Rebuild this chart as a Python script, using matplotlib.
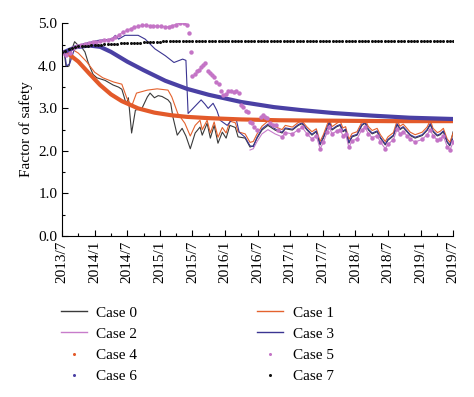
import numpy as np
import matplotlib
matplotlib.use("Agg")
import matplotlib.pyplot as plt
from matplotlib.lines import Line2D
from matplotlib.ticker import MultipleLocator

plt.rcParams['font.family'] = ['Liberation Serif', 'DejaVu Serif']
plt.rcParams['font.size'] = 11

# x axis = months since 2013/7
tick_labels = ['2013/7', '2014/1', '2014/7', '2015/1', '2015/7', '2016/1', '2016/7',
               '2017/1', '2017/7', '2018/1', '2018/7', '2019/1', '2019/7']

# months shared by the fluctuating bundle (2015/9 onward)
bundle_months = [25.8, 26.7, 27.3, 28.0, 28.7, 29.5, 30.2, 30.9, 31.9, 32.4, 33.7, 34.6, 35.2,
                 35.9, 36.8, 37.9, 39.2, 40.5, 41.1, 42.4, 43.5, 44.2, 45.1, 46.0, 46.8, 47.5,
                 48.1, 48.8, 49.2, 49.7, 50.6, 51.2, 51.7, 52.2, 52.8, 53.4, 54.3, 55.2, 55.8,
                 56.4, 57.1, 58.0, 58.6, 59.5, 60.0, 61.0, 61.7, 62.2, 62.8, 63.5, 64.1, 65.0,
                 66.3, 67.2, 67.8, 68.3, 69.1, 69.6, 70.2, 70.9, 71.4, 72.0]

# Case 0
case0_head_m = [0, 0.4, 0.7, 1.3, 1.6, 2.3, 3.0, 3.7, 4.2, 4.8, 5.7, 6.4, 7.9, 9.4, 10.4,
                11.0, 11.4, 11.8, 12.2, 12.8, 13.5, 14.7, 15.7, 16.2, 17.0, 17.7, 18.4, 19.5,
                20.0, 20.4, 21.2, 22.1, 22.8, 23.6, 24.5, 25.4]
case0_head = [4.30, 4.32, 4.00, 4.00, 4.32, 4.57, 4.48, 4.42, 4.33, 4.08, 3.80, 3.72, 3.66,
              3.55, 3.50, 3.45, 3.28, 3.10, 3.25, 2.42, 2.96, 3.00, 3.27, 3.36, 3.25, 3.30,
              3.28, 3.20, 3.12, 2.80, 2.37, 2.53, 2.35, 2.05, 2.42, 2.56]
case0_tail = [2.37, 2.65, 2.30, 2.60, 2.18, 2.44, 2.30, 2.60, 2.55, 2.33, 2.30, 2.09, 2.12,
              2.30, 2.49, 2.60, 2.49, 2.42, 2.52, 2.49, 2.60, 2.64, 2.49, 2.37, 2.45, 2.14,
              2.30, 2.53, 2.66, 2.49, 2.57, 2.60, 2.45, 2.49, 2.18, 2.33, 2.37, 2.60, 2.65,
              2.49, 2.40, 2.45, 2.30, 2.14, 2.25, 2.35, 2.62, 2.50, 2.55, 2.45, 2.36, 2.30,
              2.36, 2.48, 2.62, 2.45, 2.35, 2.38, 2.45, 2.20, 2.12, 2.45]

# Case 1
case1_head_m = [0, 1.0, 2.0, 3.0, 4.5, 6.0, 7.5, 9.5, 11.0, 11.9, 12.8, 13.7, 15.7, 17.5,
                19.5, 20.2, 21.3, 22.6, 23.6, 24.5, 25.4]
case1_head = [4.32, 4.28, 4.38, 4.30, 4.10, 3.85, 3.72, 3.62, 3.57, 3.25, 3.05, 3.36, 3.43,
              3.46, 3.43, 3.27, 2.88, 2.65, 2.35, 2.60, 2.72]
case1_tail = [2.50, 2.72, 2.42, 2.68, 2.32, 2.55, 2.42, 2.70, 2.66, 2.45, 2.40, 2.20, 2.22,
              2.40, 2.58, 2.70, 2.57, 2.50, 2.60, 2.56, 2.67, 2.70, 2.56, 2.45, 2.52, 2.22,
              2.38, 2.62, 2.74, 2.57, 2.65, 2.70, 2.54, 2.57, 2.27, 2.41, 2.45, 2.68, 2.73,
              2.57, 2.48, 2.53, 2.38, 2.22, 2.33, 2.43, 2.72, 2.58, 2.63, 2.53, 2.44, 2.38,
              2.44, 2.56, 2.72, 2.53, 2.43, 2.46, 2.53, 2.28, 2.20, 2.42]

# Case 2 (gap between 2015/5 and 2016/5)
case2_head_m = [0, 0.7, 1.4, 2.5, 5.0, 8.0, 10.0, 11.0, 13.0, 15.0, 17.0, 19.5, 21.5, 22.5]
case2_head = [4.30, 4.22, 4.30, 4.47, 4.54, 4.60, 4.68, 4.78, 4.90, 4.96, 4.94, 4.92, 5.00, 5.03]
case2_tail = [2.02, 2.05, 2.22, 2.40, 2.50, 2.40, 2.33, 2.43, 2.40, 2.50, 2.55, 2.40, 2.28,
              2.36, 2.05, 2.20, 2.44, 2.55, 2.40, 2.47, 2.50, 2.36, 2.40, 2.08, 2.24, 2.28,
              2.50, 2.55, 2.40, 2.31, 2.36, 2.21, 2.05, 2.16, 2.26, 2.52, 2.40, 2.45, 2.36,
              2.27, 2.21, 2.27, 2.38, 2.50, 2.35, 2.26, 2.28, 2.35, 2.10, 2.02, 2.20]

# Case 3
case3_head_m = [0, 0.5, 0.8, 1.4, 2.4, 4.0, 6.6, 9.2, 9.8, 10.4, 11.6, 14.0, 15.3, 17.1, 19.0,
                20.6, 22.2, 22.8, 23.2, 25.0, 25.6, 26.3, 26.9, 27.8, 28.5, 29.1, 30.4, 31.5,
                32.1, 32.6]
case3_head = [4.30, 4.30, 4.00, 4.05, 4.45, 4.52, 4.60, 4.63, 4.72, 4.63, 4.72, 4.72, 4.63,
              4.40, 4.24, 4.08, 4.16, 4.13, 2.88, 3.12, 3.20, 3.10, 3.00, 3.12, 2.95, 2.72,
              2.60, 2.77, 2.72, 2.44]
case3_tail = [2.32, 2.12, 2.10, 2.32, 2.52, 2.63, 2.52, 2.44, 2.54, 2.51, 2.62, 2.66, 2.51,
              2.39, 2.47, 2.16, 2.32, 2.55, 2.68, 2.51, 2.59, 2.62, 2.47, 2.51, 2.20, 2.35,
              2.39, 2.62, 2.67, 2.51, 2.42, 2.47, 2.32, 2.16, 2.27, 2.37, 2.64, 2.52, 2.57,
              2.47, 2.38, 2.32, 2.38, 2.50, 2.64, 2.47, 2.37, 2.40, 2.47, 2.22, 2.14, 2.30]

# Case 4 (smooth)
case4_m = [0, 1, 3, 5, 7, 9, 11, 14, 17, 20, 23, 27, 33, 40, 50, 60, 72]
case4 = [4.32, 4.30, 4.10, 3.82, 3.55, 3.33, 3.17, 3.00, 2.90, 2.84, 2.80, 2.77, 2.74, 2.72,
         2.71, 2.70, 2.70]

# Case 5 (scattered after 2015/5, then follows case 2)
case5_head_m = [0.0, 0.7, 1.4, 2.1, 2.8, 3.5, 4.2, 4.9, 5.6, 6.3, 7.0, 7.7, 8.4, 9.1, 9.8,
                10.5, 11.2, 11.9, 12.6, 13.3, 14.0, 14.7, 15.4, 16.1, 16.8, 17.5, 18.2, 18.9,
                19.6, 20.3, 21.0, 21.7, 22.4, 23.0, 23.3, 23.7, 24.0, 24.4, 24.8, 25.2, 25.6,
                26.0, 26.4, 26.8, 27.2, 27.6, 28.0, 28.4, 28.8, 29.2, 29.7, 30.2, 30.6, 31.1,
                31.6, 32.1, 32.6, 33.0, 33.4, 33.8, 34.2, 34.6, 35.0, 35.4, 35.8, 36.6, 37.0,
                37.4, 37.8, 38.3, 38.8, 39.3, 39.8]
case5_head = [4.30, 4.25, 4.30, 4.42, 4.48, 4.50, 4.52, 4.54, 4.56, 4.57, 4.58, 4.60, 4.62,
              4.64, 4.68, 4.73, 4.79, 4.84, 4.88, 4.92, 4.95, 4.96, 4.96, 4.95, 4.94, 4.94,
              4.93, 4.92, 4.92, 4.93, 4.97, 5.00, 5.02, 4.97, 4.77, 4.33, 3.76, 3.80, 3.88,
              3.90, 3.98, 4.03, 4.06, 3.88, 3.84, 3.78, 3.75, 3.62, 3.58, 3.40, 3.32, 3.35,
              3.40, 3.42, 3.38, 3.40, 3.36, 3.07, 3.03, 2.94, 2.91, 2.68, 2.66, 2.55, 2.50,
              2.80, 2.84, 2.80, 2.77, 2.66, 2.62, 2.60, 2.50]

# Case 6 (smooth)
case6_m = [0, 1, 2.5, 5, 7, 9, 12, 15, 19, 23, 27, 33, 39, 44, 50, 57, 64, 72]
case6 = [4.30, 4.36, 4.44, 4.48, 4.45, 4.33, 4.10, 3.90, 3.65, 3.46, 3.32, 3.15, 3.03, 2.96,
         2.89, 2.83, 2.78, 2.75]

# Case 7 (dots every ~0.6 month)
case7_m = np.arange(0, 72.01, 0.6)
case7 = [4.32, 4.36, 4.40, 4.43, 4.45, 4.46, 4.47, 4.48, 4.48, 4.49, 4.49, 4.50, 4.50, 4.51,
         4.51, 4.52, 4.52, 4.52, 4.53, 4.53, 4.54, 4.54, 4.55, 4.55, 4.55, 4.56, 4.56, 4.56,
         4.57, 4.57, 4.57, 4.58] + [4.58] * 89

colors = {0: '#3a3a3a', 1: '#e4622e', 2: '#c77ccb', 3: '#3b3592',
          4: '#e35a2a', 5: '#c474c6', 6: '#4a40a4', 7: '#111111'}

fig = plt.figure(figsize=(4.74, 3.97), dpi=100)
ax = fig.add_axes([0.131, 0.406, 0.825, 0.535])

ax.plot(case0_head_m + bundle_months, case0_head + case0_tail, color=colors[0], lw=0.8)
ax.plot(case1_head_m + bundle_months, case1_head + case1_tail, color=colors[1], lw=0.8)
ax.plot(case2_head_m + [28.0] + bundle_months[11:], case2_head + [np.nan] + case2_tail,
        color=colors[2], lw=0.8)
ax.plot(case3_head_m + bundle_months[10:], case3_head + case3_tail, color=colors[3], lw=0.8)
ax.plot(case4_m, case4, color=colors[4], lw=3.0, solid_capstyle='round')
ax.plot(case6_m, case6, color=colors[6], lw=3.0, solid_capstyle='round')
ax.plot(case5_head_m + bundle_months[17:], case5_head + case2_tail[6:], 'o', color=colors[5],
        ms=3.2, mew=0)
ax.plot(case7_m, case7, 'o', color=colors[7], ms=2.2, mew=0)

ax.set_xlim(0, 72)
ax.set_ylim(0, 5)
ax.set_xticks(np.arange(0, 73, 6))
ax.set_xticklabels(tick_labels, rotation=90)
ax.xaxis.set_minor_locator(MultipleLocator(3))
ax.yaxis.set_major_locator(MultipleLocator(1))
ax.yaxis.set_minor_locator(MultipleLocator(0.5))
ax.yaxis.set_major_formatter(plt.FormatStrFormatter('%.1f'))
ax.tick_params(which='both', direction='in', width=0.8)
ax.tick_params(which='major', length=4)
ax.tick_params(which='minor', length=2.5)
ax.spines['top'].set_visible(False)
ax.spines['right'].set_visible(False)
ax.set_ylabel('Factor of safety')

handles = []
for i in [0, 2, 4, 6, 1, 3, 5, 7]:
    if i < 4:
        handles.append(Line2D([], [], color=colors[i], lw=1.0, label='Case %d' % i))
    else:
        handles.append(Line2D([], [], color=colors[i], ls='none', marker='o', ms=2.2, mew=0,
                              label='Case %d' % i))
fig.legend(handles=handles, ncol=2, loc='upper left', bbox_to_anchor=(0.115, 0.245),
           frameon=False, handlelength=1.7, handletextpad=0.6, columnspacing=7.9,
           labelspacing=0.49, borderaxespad=0)

fig.savefig('out.png', dpi=100)
